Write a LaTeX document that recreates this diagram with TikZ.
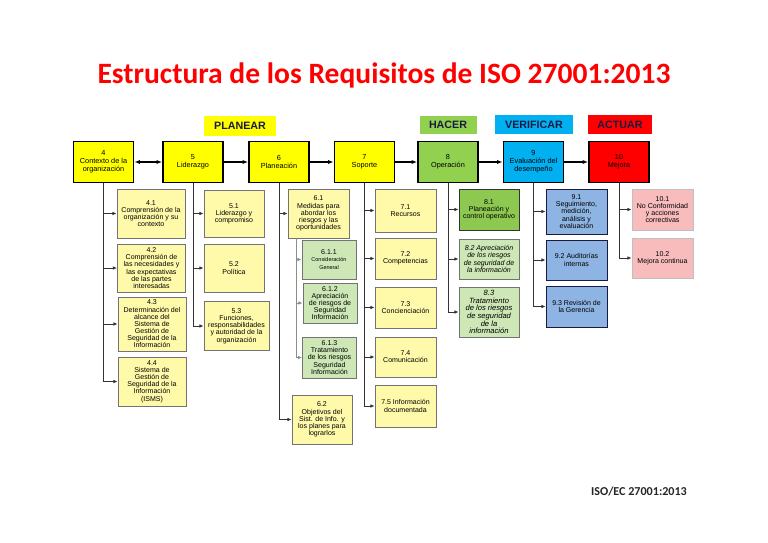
\documentclass[tikz,border=0pt]{standalone}
\usepackage{fontspec}
\setmainfont{Liberation Sans}
\newfontfamily\titlefont{Carlito}
\usetikzlibrary{arrows.meta, positioning, shadows}

\definecolor{isoyellow}{HTML}{FFFF00}
\definecolor{paleyellow}{HTML}{FFFAAA}
\definecolor{isogreen}{HTML}{92D050}
\definecolor{opgreen}{HTML}{8DC850}
\definecolor{palegreen}{HTML}{CDE7B6}
\definecolor{isocyan}{HTML}{00B0F0}
\definecolor{paleblue}{HTML}{8DB4E2}
\definecolor{isored}{HTML}{FF0000}
\definecolor{palered}{HTML}{F8BCBC}
\definecolor{navytext}{HTML}{1A1A40}

\newcommand{\smalltxt}{\fontsize{3.9}{4.4}\selectfont}

\begin{document}
\begin{tikzpicture}[x=0.025cm, y=-0.025cm,
    main/.style={rectangle, draw=black, line width=1.1pt, minimum width=1.5cm, minimum height=1.025cm, align=center, inner sep=1pt, font=\fontsize{5.2}{5.6}\selectfont},
    sub/.style={rectangle, draw=black!55, line width=0.5pt, align=center, inner sep=0.5pt, fill=paleyellow, font=\fontsize{5}{5.1}\selectfont, drop shadow={shadow xshift=0.7pt, shadow yshift=-0.7pt, fill=black!30}},
    sz/.style 2 args={minimum width=#1*0.025cm, minimum height=#2*0.025cm},
    phase/.style={rectangle, inner sep=0pt, text=navytext, font=\bfseries\fontsize{7.6}{8}\selectfont},
    flow/.style={-{Latex[length=4pt, width=3pt]}, line width=1pt},
    branch/.style={-{Latex[length=3pt, width=2.5pt]}, line width=0.6pt, draw=black!80},
    subbranch/.style={branch, draw=black!45}
]
    \useasboundingbox[fill=white] (0,0) rectangle (768,543);

    % Title
    \node[text=isored, font=\titlefont\bfseries\fontsize{21}{24}\selectfont] (title) at (384,75) {Estructura de los Requisitos de ISO 27001:2013};

    % Phases
    \node[phase, fill=isoyellow, sz={72}{20}] (planear) at (240,126) {PLANEAR};
    \node[phase, fill=isogreen, sz={57}{18}] (hacer) at (448,125) {HACER};
    \node[phase, fill=isocyan, sz={78}{19}] (verificar) at (534,125) {VERIFICAR};
    \node[phase, fill=isored, sz={64}{19}] (actuar) at (620,125) {ACTUAR};

    % Main clauses
    \node[main, fill=isoyellow] (b4) at (103.5,162) {4\\Contexto de la\\organización};
    \node[main, fill=isoyellow] (b5) at (193,162) {5\\Liderazgo};
    \node[main, fill=isoyellow] (b6) at (279,162) {6\\Planeación};
    \node[main, fill=isoyellow] (b7) at (364.5,162) {7\\Soporte};
    \node[main, fill=isogreen] (b8) at (448,162) {8\\Operación};
    \node[main, fill=isocyan] (b9) at (533.5,162) {9\\Evaluación del\\desempeño};
    \node[main, fill=isored] (b10) at (619,162) {10\\Mejora};

    \draw[flow, {Latex[length=4pt, width=3pt]}-{Latex[length=4pt, width=3pt]}] (b4) -- (b5);
    \draw[flow] (b5) -- (b6);
    \draw[flow] (b6) -- (b7);
    \draw[flow] (b7) -- (b8);
    \draw[flow] (b8) -- (b9);
    \draw[flow] (b9) -- (b10);

    % Clause 4
    \node[sub, sz={68}{49}] (b41) at (151,213.5) {4.1\\Comprensión de la\\organización y su\\contexto};
    \node[sub, sz={68}{48}] (b42) at (151.5,268) {4.2\\Comprensión de\\las necesidades y\\las expectativas\\de las partes\\interesadas};
    \node[sub, sz={68}{54}] (b43) at (152,324) {4.3\\Determinación del\\alcance del\\Sistema de\\Gestión de\\Seguridad de la\\Información};
    \node[sub, sz={68}{49}] (b44) at (152,381.5) {4.4\\Sistema de\\Gestión de\\Seguridad de la\\Información\\(ISMS)};
    \draw[branch] (b4.south) |- (b41.west);
    \draw[branch] (b4.south) |- (b42.west);
    \draw[branch] (b4.south) |- (b43.west);
    \draw[branch] (b4.south) |- (b44.west);

    % Clause 5
    \node[sub, sz={60}{47}] (b51) at (234,213.5) {5.1\\Liderazgo y\\compromiso};
    \node[sub, sz={60}{48}] (b52) at (234,268) {5.2\\Política};
    \node[sub, sz={65}{49}] (b53) at (236.5,326) {5.3\\Funciones,\\responsabilidades\\y autoridad de la\\organización};
    \draw[branch] (b5.south) |- (b51.west);
    \draw[branch] (b5.south) |- (b52.west);
    \draw[branch] (b5.south) |- (b53.west);

    % Clause 6
    \node[sub, sz={61}{49}] (b61) at (318.5,213.5) {6.1\\Medidas para\\abordar los\\riesgos y las\\oportunidades};
    \node[sub, fill=palegreen, sz={54}{39}] (b611) at (329,259.5) {6.1.1\\\smalltxt Consideración\\\smalltxt General};
    \node[sub, fill=palegreen, sz={54}{40}] (b612) at (330,303) {6.1.2\\Apreciación\\de riesgos de\\Seguridad\\Información};
    \node[sub, fill=palegreen, sz={54}{41}] (b613) at (329.5,357.5) {6.1.3\\Tratamiento\\de los riesgos\\Seguridad\\Información};
    \node[sub, sz={60}{49}] (b62) at (322,419.5) {6.2\\Objetivos del\\Sist. de Info. y\\los planes para\\lograrlos};
    \draw[branch] (b6.south) |- (b61.west);
    \draw[branch] (b6.south) |- (b62.west);
    \draw[subbranch] ([xshift=-0.56cm]b61.south) |- (b611.west);
    \draw[subbranch] ([xshift=-0.56cm]b61.south) |- (b612.west);
    \draw[subbranch] ([xshift=-0.56cm]b61.south) |- (b613.west);

    % Clause 7
    \node[sub, sz={61}{43}] (b71) at (405.5,210.5) {7.1\\Recursos};
    \node[sub, sz={61}{41}] (b72) at (405.5,258.5) {7.2\\Competencias};
    \node[sub, sz={61}{41}] (b73) at (405.5,307.5) {7.3\\Concienciación};
    \node[sub, sz={61}{40}] (b74) at (405.5,357) {7.4\\Comunicación};
    \node[sub, sz={61}{42}] (b75) at (405.5,406) {7.5 Información\\documentada};
    \draw[branch] (b7.south) |- (b71.west);
    \draw[branch] (b7.south) |- (b72.west);
    \draw[branch] (b7.south) |- (b73.west);
    \draw[branch] (b7.south) |- (b74.west);
    \draw[branch] (b7.south) |- (b75.west);

    % Clause 8
    \node[sub, fill=opgreen, draw=black!80, sz={60}{41}] (b81) at (489,209.5) {8.1\\Planeación y\\control operativo};
    \node[sub, fill=palegreen, sz={60}{40}, font=\itshape\fontsize{5}{5.1}\selectfont] (b82) at (489,259) {8.2 Apreciación\\de los riesgos\\de seguridad de\\la información};
    \node[sub, fill=palegreen, sz={60}{50}, font=\itshape\fontsize{5.4}{5.5}\selectfont] (b83) at (489,312) {8.3\\Tratamiento\\de los riesgos\\de seguridad\\de la\\información};
    \draw[branch] (b8.south) |- (b81.west);
    \draw[branch] (b8.south) |- (b82.west);
    \draw[branch] (b8.south) |- (b83.west);

    % Clause 9
    \node[sub, fill=paleblue, draw=navytext, sz={61}{45}] (b91) at (576.5,211.5) {9.1\\Seguimiento,\\medición,\\análisis y\\evaluación};
    \node[sub, fill=paleblue, draw=navytext, sz={61}{40}] (b92) at (576.5,260) {9.2 Auditorías\\internas};
    \node[sub, fill=paleblue, draw=navytext, sz={61}{41}] (b93) at (576.5,306.5) {9.3 Revisión de\\la Gerencia};
    \draw[branch] (b9.south) |- (b91.west);
    \draw[branch] (b9.south) |- (b92.west);
    \draw[branch] (b9.south) |- (b93.west);

    % Clause 10
    \node[sub, fill=palered, draw=black!25, sz={61}{41}] (b101) at (662.5,209.5) {10.1\\No Conformidad\\y acciones\\correctivas};
    \node[sub, fill=palered, draw=black!25, sz={61}{40}] (b102) at (662.5,258) {10.2\\Mejora continua};
    \draw[branch] (b10.south) |- (b101.west);
    \draw[branch] (b10.south) |- (b102.west);

    % Footer
    \node[font=\titlefont\bfseries\fontsize{8.6}{9}\selectfont, text=black!85] (norma) at (639,492) {ISO/EC 27001:2013};

\end{tikzpicture}
\end{document}
